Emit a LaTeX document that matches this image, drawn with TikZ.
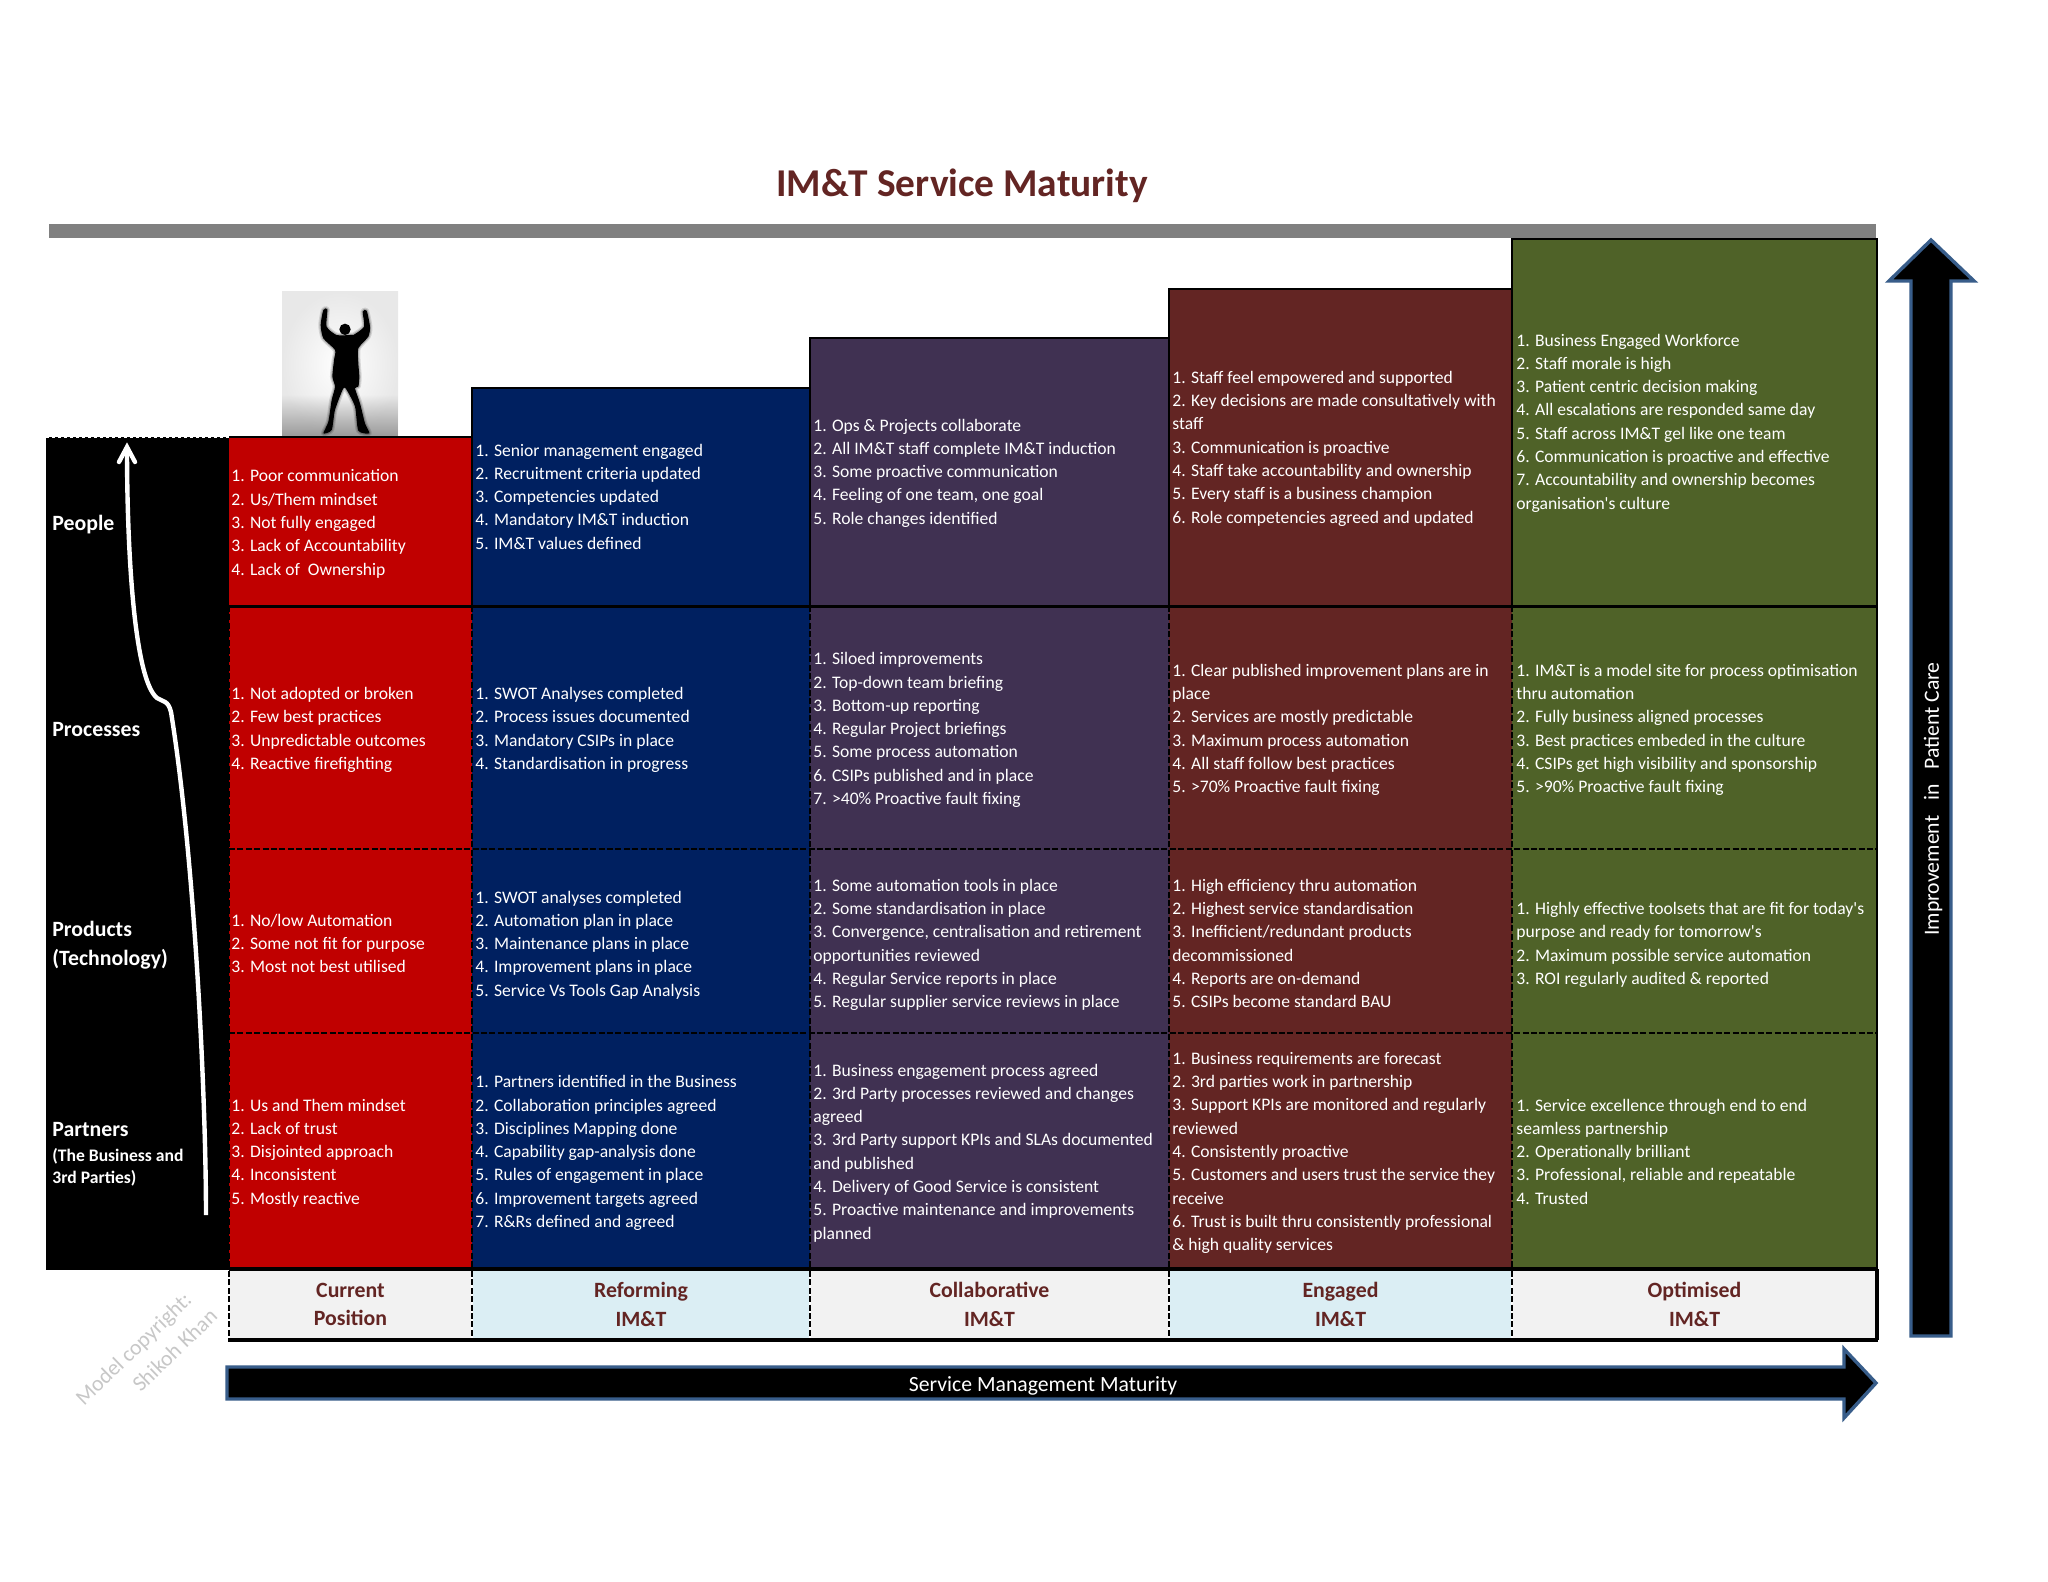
\documentclass[tikz,border=0pt]{standalone}
\usepackage{fontspec}
\usetikzlibrary{fadings}
\setmainfont{Carlito}
\definecolor{cRed}{HTML}{C00000}
\definecolor{cNavy}{HTML}{002060}
\definecolor{cPurple}{HTML}{403152}
\definecolor{cMaroon}{HTML}{632523}
\definecolor{cGreen}{HTML}{4F6228}
\definecolor{cGrey}{HTML}{F2F2F2}
\definecolor{cPale}{HTML}{DBEEF4}
\definecolor{cEdge}{HTML}{385D8A}
\tikzset{
  cellt/.style={anchor=west,inner sep=0pt,align=left,text=white,yshift=-2pt,
    font=\fontsize{8.8}{11.65}\selectfont,
    execute at begin node=\strut,execute at end node=\strut},
  rowt/.style={anchor=west,inner sep=0pt,align=left,text=white,yshift=-1.1pt,
    font=\bfseries\fontsize{10.9}{14.3}\selectfont},
  rowsm/.style={anchor=west,inner sep=0pt,align=left,text=white,yshift=-1pt,
    font=\bfseries\fontsize{8.8}{11}\selectfont},
  colt/.style={inner sep=0pt,align=center,text=cMaroon,
    font=\bfseries\fontsize{10.9}{14.3}\selectfont},
  solidsep/.style={draw=black,line width=1.1pt},
  dashsep/.style={draw=black,line width=.8pt,dash pattern=on 3pt off 1.2pt},
  bigarrow/.style={draw=cEdge,fill=black,line width=1.7pt,miter limit=10},
}
\begin{document}
\begin{tikzpicture}[x=0.5pt,y=-0.5pt]
\useasboundingbox (0,0) rectangle (2048,1582);
\fill[white] (0,0) rectangle (2048,1582);
% title and bar
\node[inner sep=0pt,text=cMaroon,font=\bfseries\fontsize{19.7}{22}\selectfont] (title) at (962,185.5) {IM\&T Service Maturity};
\fill[black!50] (49,224) rectangle (1876,238);
% left block
\fill[black] (46,437) rectangle (229,1270);
\draw[white,line width=.6pt,dash pattern=on 1.5pt off 1.5pt] (46,437) -- (229,437);
% photo
\begin{scope}
\shade[inner color=white,outer color=black!9] (282,292) rectangle (398,437);
\fill[black!40,path fading=north] (282,395) rectangle (398,437);
\begin{scope}[shift={(30,270)},x=0.16667pt,y=-0.16667pt]
\def\bodyplot{plot[smooth cycle,tension=.4] coordinates {(880,120)(892,118)(890,170)(920,195)(960,195)(970,195)(1002,170)(998,125)(1010,122)(1020,170)(1015,200)(985,235)(985,280)(988,320)(985,350)(975,355)(990,400)(1005,460)(1018,490)(985,482)(975,410)(950,360)(940,355)(915,420)(905,480)(880,490)(895,455)(905,390)(915,350)(907,320)(912,270)(915,240)(880,205)(872,165)}}
\draw[black,opacity=.12,line width=2.4pt,line join=round] \bodyplot;
\draw[black,opacity=.2,line width=1.2pt,line join=round] \bodyplot;
\fill[black] \bodyplot;
\fill[black] (945,178) circle[radius=17];
\end{scope}
\end{scope}
% columns
\fill[cRed] (229,437) rectangle (472,1268);
\fill[cNavy] (472,388) rectangle (810,1268);
\fill[cPurple] (810,338) rectangle (1169,1268);
\fill[cMaroon] (1169,289) rectangle (1512,1268);
\fill[cGreen] (1512,239) rectangle (1877,1268);
% label band
\fill[cGrey] (229,1271) rectangle (472,1338);
\fill[cPale] (472,1271) rectangle (810,1338);
\fill[cGrey] (810,1271) rectangle (1169,1338);
\fill[cPale] (1169,1271) rectangle (1512,1338);
\fill[cGrey] (1512,1271) rectangle (1877,1338);
% steps
\draw[solidsep] (229,437) -- (472,437) -- (472,388) -- (810,388) -- (810,338) -- (1169,338) -- (1169,289) -- (1512,289) -- (1512,239) -- (1877,239) -- (1877,606);
\draw[solidsep] (229,606.5) -- (1877,606.5);
\draw[solidsep] (472,388) -- (472,606);
\draw[solidsep] (810,338) -- (810,606);
\draw[solidsep] (1169,289) -- (1169,606);
\draw[solidsep] (1512,239) -- (1512,606);
% dashed grid
\foreach \yy in {849,1033}{\draw[dashsep] (229,\yy) -- (1877,\yy);}
\foreach \xx in {229,472,810,1169,1512}{
  \draw[dashsep] (\xx,606) -- (\xx,1268);
  \draw[draw=white,line width=.9pt] (\xx,1271) -- (\xx,1338);
  \draw[dashsep] (\xx,1271) -- (\xx,1338);
}
\draw[draw=black,line width=1.1pt] (1877,606) -- (1877,1270);
\draw[draw=black,line width=2.2pt] (229,1269) -- (1878,1269);
\draw[draw=black,line width=1.6pt] (1877,1269) -- (1877,1340);
\draw[draw=black,line width=2pt] (228,1339.5) -- (1878,1339.5);
% row labels
\node[rowt] (rPeople) at (52,522) {People};
\node[rowt] (rProc) at (52,727) {Processes};
\node[rowt] (rProd) at (52,943) {Products\\(Technology)};
\node[rowt] (rPart) at (52,1127) {Partners};
\node[rowsm] (rPartB) at (52,1165) {(The Business and\\3rd Parties)};
% curve
\coordinate (cvStart) at (206,1215);
\coordinate (cvTip) at (127,447);
\draw[white,line width=2.2pt,line cap=butt] (cvStart) .. controls (206,1100) and (195,860) .. (171,712) .. controls (168,700) and (163,702) .. (157,698) .. controls (135,680) and (127,560) .. (cvTip);
\draw[white,line width=2.2pt,line cap=round,line join=miter] (119,462) -- (127,447) -- (135,462);
% red
\node[cellt] (a1) at (231,522) {1. Poor communication\\2. Us/Them mindset\\3. Not fully engaged\\3. Lack of Accountability\\4. Lack of\ \ Ownership};
\node[cellt] (a2) at (231,728) {1. Not adopted or broken\\2. Few best practices\\3. Unpredictable outcomes\\4. Reactive firefighting};
\node[cellt] (a3) at (231,943) {1. No/low Automation\\2. Some not fit for purpose\\3. Most not best utilised};
\node[cellt] (a4) at (231,1151) {1. Us and Them mindset\\2. Lack of trust\\3. Disjointed approach\\4. Inconsistent\\5. Mostly reactive};
% navy
\node[cellt] (b1) at (475,496) {1. Senior management engaged\\2. Recruitment criteria updated\\3. Competencies updated\\4. Mandatory IM\&T induction\\5. IM\&T values defined};
\node[cellt] (b2) at (475,728) {1. SWOT Analyses completed\\2. Process issues documented\\3. Mandatory CSIPs in place\\4. Standardisation in progress};
\node[cellt] (b3) at (475,943) {1. SWOT analyses completed\\2. Automation plan in place\\3. Maintenance plans in place\\4. Improvement plans in place\\5. Service Vs Tools Gap Analysis};
\node[cellt] (b4) at (475,1151) {1. Partners identified in the Business\\2. Collaboration principles agreed\\3. Disciplines Mapping done\\4. Capability gap-analysis done\\5. Rules of engagement in place\\6. Improvement targets agreed\\7. R\&Rs defined and agreed};
% purple
\node[cellt] (c1) at (813,471) {1. Ops \& Projects collaborate\\2. All IM\&T staff complete IM\&T induction\\3. Some proactive communication\\4. Feeling of one team, one goal\\5. Role changes identified};
\node[cellt] (c2) at (813,728) {1. Siloed improvements\\2. Top-down team briefing\\3. Bottom-up reporting\\4. Regular Project briefings\\5. Some process automation\\6. CSIPs published and in place\\7. >40\% Proactive fault fixing};
\node[cellt] (c3) at (813,943) {1. Some automation tools in place\\2. Some standardisation in place\\3. Convergence, centralisation and retirement\\opportunities reviewed\\4. Regular Service reports in place\\5. Regular supplier service reviews in place};
\node[cellt] (c4) at (813,1151) {1. Business engagement process agreed\\2. 3rd Party processes reviewed and changes\\agreed\\3. 3rd Party support KPIs and SLAs documented\\and published\\4. Delivery of Good Service is consistent\\5. Proactive maintenance and improvements\\planned};
% maroon
\node[cellt] (d1) at (1172,446.6) {1. Staff feel empowered and supported\\2. Key decisions are made consultatively with\\staff\\3. Communication is proactive\\4. Staff take accountability and ownership\\5. Every staff is a business champion\\6. Role competencies agreed and updated};
\node[cellt] (d2) at (1172,728) {1. Clear published improvement plans are in\\place\\2. Services are mostly predictable\\3. Maximum process automation\\4. All staff follow best practices\\5. >70\% Proactive fault fixing};
\node[cellt] (d3) at (1172,943) {1. High efficiency thru automation\\2. Highest service standardisation\\3. Inefficient/redundant products\\decommissioned\\4. Reports are on-demand\\5. CSIPs become standard BAU};
\node[cellt] (d4) at (1172,1151) {1. Business requirements are forecast\\2. 3rd parties work in partnership\\3. Support KPIs are monitored and regularly\\reviewed\\4. Consistently proactive\\5. Customers and users trust the service they\\receive\\6. Trust is built thru consistently professional\\\& high quality services};
% green
\node[cellt] (e1) at (1516,421) {1. Business Engaged Workforce\\2. Staff morale is high\\3. Patient centric decision making\\4. All escalations are responded same day\\5. Staff across IM\&T gel like one team\\6. Communication is proactive and effective\\7. Accountability and ownership becomes\\organisation\textquotesingle s culture};
\node[cellt] (e2) at (1516,728) {1. IM\&T is a model site for process optimisation\\thru automation\\2. Fully business aligned processes\\3. Best practices embeded in the culture\\4. CSIPs get high visibility and sponsorship\\5. >90\% Proactive fault fixing};
\node[cellt] (e3) at (1516,943) {1. Highly effective toolsets that are fit for today\textquotesingle s\\purpose and ready for tomorrow\textquotesingle s\\2. Maximum possible service automation\\3. ROI regularly audited \& reported};
\node[cellt] (e4) at (1516,1151) {1. Service excellence through end to end\\seamless partnership\\2. Operationally brilliant\\3. Professional, reliable and repeatable\\4. Trusted};
% column labels
\node[colt] (l1) at (350.5,1304.5) {Current\\Position};
\node[colt] (l2) at (641,1304.5) {Reforming\\IM\&T};
\node[colt] (l3) at (989.5,1304.5) {Collaborative\\IM\&T};
\node[colt] (l4) at (1340.5,1304.5) {Engaged\\IM\&T};
\node[colt] (l5) at (1694.5,1304.5) {Optimised\\IM\&T};
% arrows
\draw[bigarrow] (227,1367) -- (1844,1367) -- (1844,1349) -- (1876,1383) -- (1844,1418) -- (1844,1399) -- (227,1399) -- cycle;
\draw[bigarrow] (1911,1336) -- (1911,281) -- (1889,281) -- (1931,240) -- (1974,281) -- (1951,281) -- (1951,1336) -- cycle;
\node[inner sep=0pt,text=white,font=\fontsize{10.85}{13}\selectfont] (hLabel) at (1043,1386) {Service Management Maturity};
\node[inner sep=0pt,text=white,rotate=90,font=\fontsize{10.85}{13}\selectfont] (vLabel) at (1933,799) {Improvement\ \ \hspace{2.5pt}in\ \ \hspace{2.5pt}Patient Care};
% watermark
\node[inner sep=0pt,text=black!22,rotate=44,font=\fontsize{10.9}{13.5}\selectfont] (wmA) at (134.5,1350) {Model copyright:};
\node[inner sep=0pt,text=black!22,rotate=44,font=\fontsize{10.9}{13.5}\selectfont] (wmB) at (174.5,1350) {Shikoh Khan};
\end{tikzpicture}
\end{document}
